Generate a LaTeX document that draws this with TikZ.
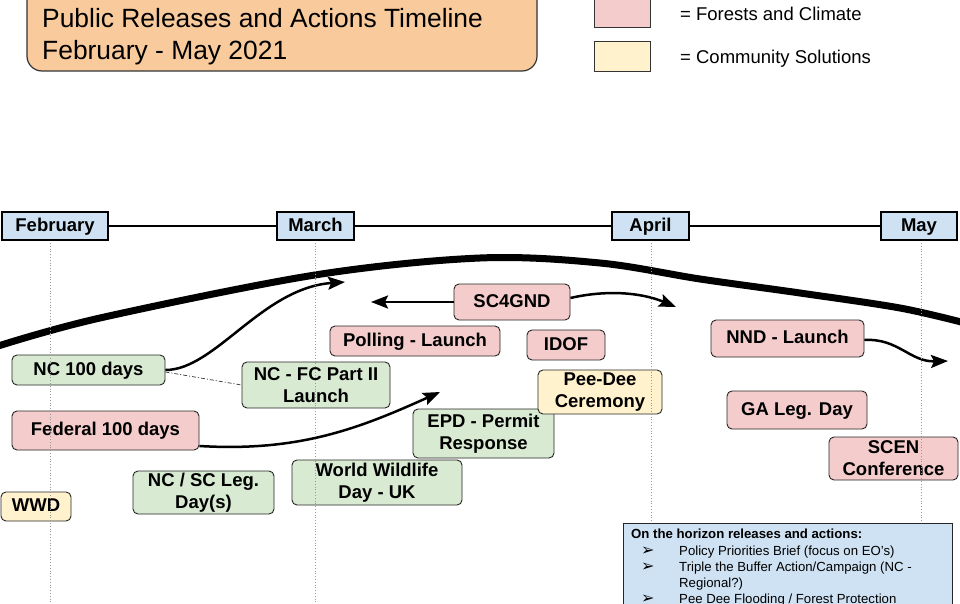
\documentclass[tikz,border=0pt]{standalone}
\usepackage{fontspec}
\setmainfont{Liberation Sans}
\newfontfamily\symfont{DejaVu Sans}
\usetikzlibrary{arrows.meta}
\definecolor{pinkc}{HTML}{F4CCCC}
\definecolor{greenc}{HTML}{D9EAD3}
\definecolor{yellowc}{HTML}{FFF2CC}
\definecolor{bluec}{HTML}{CFE2F3}
\definecolor{peachc}{HTML}{F9CB9C}
\definecolor{gridc}{HTML}{999999}
\tikzset{
  evt/.style={draw=black!85, line width=0.9pt, rounded corners=5pt, align=center, inner sep=0pt,
    font=\bfseries\fontsize{18.5}{22}\selectfont},
  one/.style={text height=13.5pt, text depth=3.5pt},
  monthbox/.style={draw=black, line width=2.5pt, fill=bluec, inner sep=0pt, minimum height=28,
    text height=13.5pt, text depth=3.5pt,
    font=\bfseries\fontsize{18.5}{22}\selectfont},
  arr/.style={line width=2.5pt, -{Stealth[length=17pt,width=13pt,inset=3pt]}},
  vline/.style={gridc, line width=0.8pt, dotted},
  legtext/.style={anchor=west, inner sep=0pt, font=\fontsize{18.5}{22}\selectfont},
  hztext/.style={anchor=base west, inner sep=0pt, font=\fontsize{13.2}{16}\selectfont},
  bul/.style={anchor=base west, inner sep=0pt, font=\symfont\fontsize{16}{16}\selectfont},
}
\begin{document}
\begin{tikzpicture}[x=1pt,y=-1pt]
\path[use as bounding box] (0,0) rectangle (960,604);
\clip (0,0) rectangle (960,604);
\fill[white] (0,0) rectangle (960,604);

% title
\draw[fill=peachc, draw=black!80, line width=1.2pt, rounded corners=15pt] (27,-40) rectangle (537,71);
\node[anchor=base west, inner sep=0pt, font=\fontsize{26.4}{32}\selectfont] (t1) at (42,28) {Public Releases and Actions Timeline};
\node[anchor=base west, inner sep=0pt, font=\fontsize{26.4}{32}\selectfont] (t2) at (42,60) {February - May 2021};

% legend
\draw[fill=pinkc, draw=black!80, line width=0.9pt] (594,-5) rectangle (650,27);
\draw[fill=yellowc, draw=black!80, line width=0.9pt] (594,41) rectangle (650,71);
\node[legtext] (l1) at (680,14) {= Forests and Climate};
\node[legtext] (l2) at (680,59) {= Community Solutions};

% timeline
\node[monthbox, minimum width=106] (feb) at (55,226) {February};
\node[monthbox, minimum width=77] (mar) at (315.5,226) {March};
\node[monthbox, minimum width=77] (apr) at (650.5,226) {April};
\node[monthbox, minimum width=76] (may) at (919,226) {May};
\draw[line width=2.5pt] (feb.east) -- (mar.west) (mar.east) -- (apr.west) (apr.east) -- (may.west);

% big curve
\draw[line width=7pt] plot[smooth, tension=0.55] coordinates {(-5,347) (100,318) (315,275) (480,258) (600,263) (700,279) (800,293) (900,308) (965,323)};

% events
\node[evt, one, fill=pinkc, minimum width=116, minimum height=36] (sc) at (512,302) {SC4GND};
\node[evt, one, fill=pinkc, minimum width=170, minimum height=30] (poll) at (415,341) {Polling - Launch};
\node[evt, one, fill=pinkc, minimum width=78, minimum height=30] (idof) at (566,345) {IDOF};
\node[evt, one, fill=pinkc, minimum width=153, minimum height=37] (nnd) at (787.5,338.5) {NND - Launch};
\node[evt, one, fill=greenc, minimum width=153, minimum height=30] (nc) at (88.5,370) {NC 100 days};
\node[evt, fill=greenc, minimum width=148, minimum height=46] (ncfc) at (316,385) {NC - FC Part II\\Launch};
\node[evt, one, fill=pinkc, minimum width=187, minimum height=39] (fed) at (105.5,430.5) {Federal 100 days};
\node[evt, fill=greenc, minimum width=141, minimum height=49] (epd) at (483.5,433.5) {EPD - Permit\\Response};
\node[evt, fill=yellowc, minimum width=124, minimum height=44] (pee) at (600,392) {Pee-Dee\\Ceremony};
\node[evt, one, fill=pinkc, minimum width=140, minimum height=38] (ga) at (797,410) {GA Leg. Day};
\node[evt, fill=pinkc, minimum width=129, minimum height=43] (scen) at (893.5,458.5) {SCEN\\Conference};
\node[evt, fill=greenc, minimum width=141, minimum height=43] (ncsc) at (203.5,492.5) {NC / SC Leg.\\Day(s)};
\node[evt, fill=greenc, minimum width=170, minimum height=45] (wwl) at (377,482.5) {World Wildlife\\Day - UK};
\node[evt, one, fill=yellowc, minimum width=70, minimum height=29] (wwd) at (36,506.5) {WWD};

% arrow end points
\coordinate (a1) at (345,282);
\coordinate (a2) at (440,392);
\coordinate (a3) at (371,302);
\coordinate (a4) at (676,307);
\coordinate (a5) at (948,361);

\draw[arr] (nc.east) .. controls (215,370) and (262,288) .. (a1);
\draw[arr] (fed.east |- 0,446) .. controls (300,452) and (360,428) .. (a2);
\draw[arr] (sc.west) -- (a3);
\draw[arr] (sc.east |- 0,298) .. controls (605,290) and (640,292) .. (a4);
\draw[arr] (nnd.east |- 0,340) .. controls (898,338) and (910,362) .. (a5);
\draw[black!80, line width=0.7pt, dash pattern=on 4pt off 2pt on 1pt off 2pt] (nc.east |- 0,372) -- (ncfc.west);

% horizon box
\draw[fill=bluec, draw=black!85, line width=0.9pt] (623,523) rectangle (952,620);
\node[hztext, font=\bfseries\fontsize{13.2}{16}\selectfont] (h0) at (631,538) {On the horizon releases and actions:};
\node[bul] (b1) at (641,555) {➢};
\node[hztext] (h1) at (679,555) {Policy Priorities Brief (focus on EO's)};
\node[bul] (b2) at (641,571) {➢};
\node[hztext] (h2) at (679,571) {Triple the Buffer Action/Campaign (NC -};
\node[hztext] (h3) at (679,587) {Regional?)};
\node[bul] (b3) at (641,603) {➢};
\node[hztext] (h4) at (679,603) {Pee Dee Flooding / Forest Protection};

% dotted month guides
\draw[vline] (50,243) -- (50,604);
\draw[vline] (315,243) -- (315,604);
\draw[vline] (651,243) -- (651,523);
\draw[vline] (921,243) -- (921,523);
\end{tikzpicture}
\end{document}
